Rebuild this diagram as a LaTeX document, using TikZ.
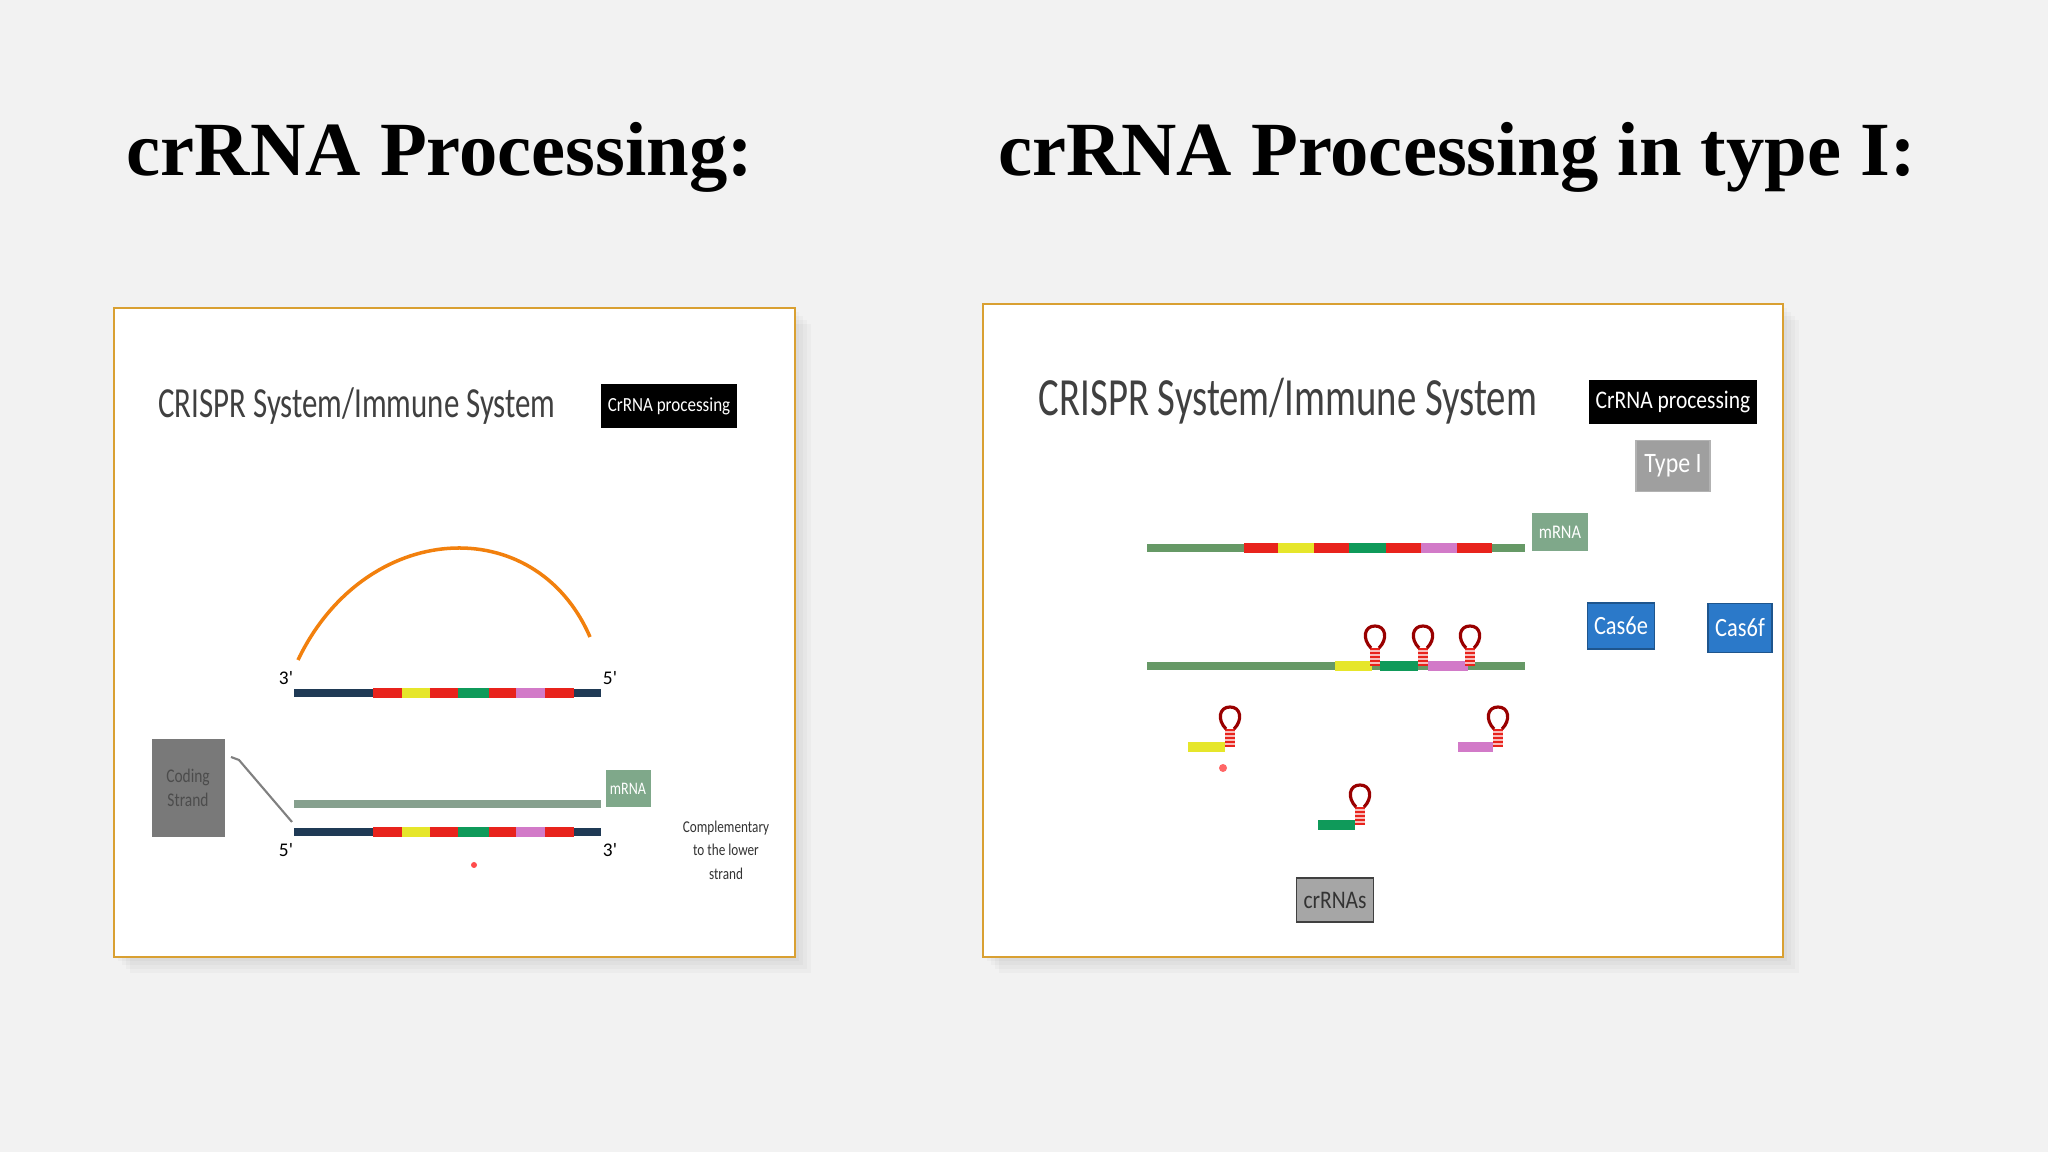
\documentclass[tikz,border=0pt]{standalone}
\usepackage{fontspec}
\setmainfont{Liberation Serif}
\newfontfamily\slidefont{Carlito}
\definecolor{bgGray}{HTML}{F2F2F2}
\definecolor{frameOr}{HTML}{D9A032}
\definecolor{navy}{HTML}{1F3A55}
\definecolor{segRed}{HTML}{E8231C}
\definecolor{segYel}{HTML}{E6E62A}
\definecolor{segGrn}{HTML}{0F9A5A}
\definecolor{segPnk}{HTML}{D27AC8}
\definecolor{rnaGrn}{HTML}{7FA88A}
\definecolor{rnaLine}{HTML}{86A08E}
\definecolor{casBlue}{HTML}{2B79C9}
\newcommand\hairpin[1]{%
  \begin{scope}[shift={#1}]
    \fill[segRed] (-5,0) rectangle (5,-18);
    \foreach \k in {-3,-7,-11,-15} {\draw[white!70!segRed, line width=0.3pt] (-5,\k) -- (5,\k);}
    \draw[red!60!black, line width=0.9pt] (-4,-18) .. controls (-13,-27) and (-11,-40) .. (0,-40)
      .. controls (11,-40) and (13,-27) .. (4,-18);
  \end{scope}}
\begin{document}
\begin{tikzpicture}[x=0.1mm, y=-0.1mm,
    bigtitle/.style = {font = \fontsize{21.8}{26}\selectfont\bfseries},
    slidetitle/.style = {font = \slidefont\fontsize{#1}{#1}\selectfont, text = black!75},
    tag/.style = {fill = black, text = white, font = \slidefont\fontsize{5.7}{6}\selectfont,
        inner sep = 0pt},
    panel/.style = {draw = frameOr, line width = 0.7pt, fill = white},
    strand/.style = {line width = 2.2pt},
    seg/.style = {line width = 3pt},
    small/.style = {font = \slidefont\fontsize{#1}{#1}\selectfont, inner sep = 0pt}
]
\useasboundingbox (0,0) rectangle (2048,1152);
\fill[bgGray] (0,0) rectangle (2048,1152);

% Titles
\node[bigtitle] (titleL) at (440,157) {crRNA Processing:};
\node[bigtitle] (titleR) at (1457,157) {crRNA Processing in type I:};

% Panels with soft shadow
\foreach \d in {4,8,12,16}
  \fill[black, opacity=0.025] (114+\d,308+\d) rectangle (795+\d,957+\d);
\foreach \d in {4,8,12,16}
  \fill[black, opacity=0.025] (983+\d,304+\d) rectangle (1783+\d,957+\d);
\draw[panel] (114,308) rectangle (795,957);
\draw[panel] (983,304) rectangle (1783,957);

% ---- Left panel ----
\node[slidetitle=12.2] (sysL) at (357,406) {\scalebox{0.72}[1]{CRISPR System/Immune System}};
\node[tag, minimum width=13.6mm, minimum height=4.4mm] (procL) at (669,406) {\scalebox{0.85}[1]{CrRNA processing}};

\draw[orange!80!brown, line width=1pt] (298,660) .. controls (365,520) and (535,510) .. (590,637);
\node[small=5.5] (p3a) at (286,678) {3'};
\node[small=5.5] (p5a) at (610,678) {5'};
\node[small=5.5] (p5b) at (286,850) {5'};
\node[small=5.5] (p3b) at (610,850) {3'};

\foreach \yy in {693,832} {
  \draw[navy, strand] (294,\yy) -- (601,\yy);
  \foreach \a/\b/\c in {373/402/segRed,402/430/segYel,430/458/segRed,458/489/segGrn,
                        489/516/segRed,516/545/segPnk,545/574/segRed}
    \draw[\c, seg] (\a,\yy) -- (\b,\yy);
}
\draw[rnaLine, strand] (294,804) -- (601,804);
\fill[red!70] (474,865) circle (3);

\node[fill=gray!95!black, minimum width=7.3mm, minimum height=9.8mm, inner sep=0pt,
      text=black!70, font=\slidefont\fontsize{5.5}{7}\selectfont, align=center] (coding) at (188,788)
      {\scalebox{0.8}[1]{Coding}\\\scalebox{0.8}[1]{Strand}};
\coordinate (codeEnd) at (292,822);
\draw[gray, line width=0.6pt] (231,757) -- (239,760) -- (codeEnd);
\node[fill=rnaGrn, text=white, minimum width=4.5mm, minimum height=3.7mm, inner sep=0pt,
      font=\slidefont\fontsize{5}{6}\selectfont] (mrnaL) at (628,789) {\scalebox{0.8}[1]{mRNA}};
\node[small=4.7, align=center, text=black!80] (compl) at (726,850)
      {\scalebox{0.8}[1]{Complementary}\\[2pt]\scalebox{0.8}[1]{to the lower}\\[2pt]\scalebox{0.8}[1]{strand}};

% ---- Right panel ----
\node[slidetitle=15.3] (sysR) at (1288,401) {\scalebox{0.72}[1]{CRISPR System/Immune System}};
\node[tag, minimum width=16.8mm, minimum height=4.4mm, font=\slidefont\fontsize{7.2}{8}\selectfont]
      (procR) at (1673,402) {\scalebox{0.85}[1]{CrRNA processing}};
\node[fill=gray!75, draw=gray!60, text=white, minimum width=7.4mm, minimum height=5.1mm, inner sep=0pt,
      font=\slidefont\fontsize{8}{8}\selectfont] (typeI) at (1673,466) {\scalebox{0.85}[1]{Type I}};
\node[fill=rnaGrn, text=white, minimum width=5.6mm, minimum height=3.8mm, inner sep=0pt,
      font=\slidefont\fontsize{5.5}{6}\selectfont] (mrnaR) at (1560,532) {\scalebox{0.85}[1]{mRNA}};

\draw[gray!80!green, strand] (1147,548) -- (1525,548);
\foreach \a/\b/\c in {1244/1278/segRed,1278/1314/segYel,1314/1349/segRed,1349/1386/segGrn,
                      1386/1421/segRed,1421/1457/segPnk,1457/1492/segRed}
  \draw[\c, seg] (\a,548) -- (\b,548);

\draw[gray!80!green, strand] (1147,666) -- (1525,666);
\draw[segYel, seg] (1335,666) -- (1372,666);
\draw[segGrn, seg] (1380,666) -- (1418,666);
\draw[segPnk, seg] (1428,666) -- (1468,666);
\foreach \h in {1375,1423,1470} {\hairpin{(\h,666)}}

\draw[segYel, seg] (1188,747) -- (1225,747);
\hairpin{(1230,747)}
\fill[red!60] (1223,768) circle (4);
\draw[segPnk, seg] (1458,747) -- (1493,747);
\hairpin{(1498,747)}
\draw[segGrn, seg] (1318,825) -- (1355,825);
\hairpin{(1360,825)}

\node[fill=casBlue, draw=casBlue!70!black, text=white, minimum width=6.7mm, minimum height=4.6mm,
      inner sep=0pt, font=\slidefont\fontsize{7.5}{8}\selectfont] (cas6e) at (1621,626) {\scalebox{0.85}[1]{Cas6e}};
\node[fill=casBlue, draw=casBlue!70!black, text=white, minimum width=6.4mm, minimum height=4.9mm,
      inner sep=0pt, font=\slidefont\fontsize{7.5}{8}\selectfont] (cas6f) at (1740,628) {\scalebox{0.85}[1]{Cas6f}};
\node[fill=gray!70, draw=gray!50!black, text=black!80, minimum width=7.7mm, minimum height=4.4mm,
      inner sep=0pt, font=\slidefont\fontsize{7.2}{8}\selectfont] (crrnas) at (1335,900) {\scalebox{0.85}[1]{crRNAs}};
\end{tikzpicture}
\end{document}
